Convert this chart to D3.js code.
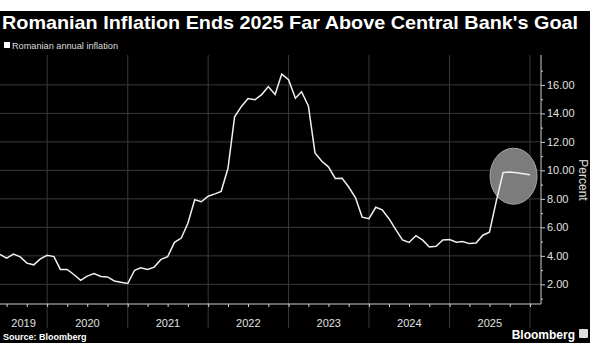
<!DOCTYPE html>
<html>
<head>
<meta charset="utf-8">
<script src="https://cdn.jsdelivr.net/npm/d3@7"></script>
<style>
    body { margin: 0; background: #fff; }
    text { font-family: "Liberation Sans", Arial, sans-serif; }
</style>
</head>
<body>
<div id="chart"></div>
<script>

// Romanian annual CPI inflation (%), monthly
const cpi2019 = [4.10, 3.84, 4.12, 3.93, 3.49, 3.37, 3.79, 4.04]; // May - Dec
const cpi2020 = [3.95, 3.05, 3.05, 2.69, 2.28, 2.58, 2.75, 2.55, 2.52, 2.24, 2.14, 2.06];
const cpi2021 = [2.99, 3.16, 3.05, 3.21, 3.75, 3.94, 4.95, 5.25, 6.29, 7.94, 7.80, 8.19];
const cpi2022 = [8.35, 8.53, 10.15, 13.76, 14.49, 15.05, 14.96, 15.32, 15.88, 15.32, 16.76, 16.37];
const cpi2023 = [15.07, 15.52, 14.53, 11.23, 10.64, 10.25, 9.43, 9.44, 8.83, 8.07, 6.72, 6.61];
const cpi2024 = [7.41, 7.23, 6.61, 5.86, 5.12, 4.94, 5.42, 5.10, 4.62, 4.67, 5.11, 5.14];
const cpi2025 = [4.95, 5.00, 4.86, 4.90, 5.45, 5.66, 7.84, 9.85, 9.88, 9.83, 9.76, 9.69];

const years = [2019, 2020, 2021, 2022, 2023, 2024, 2025];
const yTicks = [2, 4, 6, 8, 10, 12, 14, 16];
const yMinorTicks = [1, 3, 5, 7, 9, 11, 13, 15, 17];

const title = "Romanian Inflation Ends 2025 Far Above Central Bank's Goal";
const legendLabel = "Romanian annual inflation";
const yLabel = "Percent";
const source = "Source: Bloomberg";

// build the series, each value sits at the end of its month (= 1st of next month)
let data = [];
[cpi2019, cpi2020, cpi2021, cpi2022, cpi2023, cpi2024, cpi2025].forEach(function (arr, i) {
    let startMonth = 12 - arr.length;
    arr.forEach(function (v, j) {
        data.push({ date: new Date(years[i], startMonth + j + 1, 1), value: v });
    });
});

const width = 590, height = 354;

const svg = d3.select("#chart").append("svg")
    .attr("width", width)
    .attr("height", height);

svg.append("rect").attr("width", width).attr("height", height).attr("fill", "#fff");
svg.append("rect").attr("x", 0).attr("y", 11).attr("width", width).attr("height", 332).attr("fill", "#000");

// plot area
const plot = { left: 0, right: 541, top: 55, bottom: 304 };

const x = d3.scaleTime()
    .domain([new Date(2019, 5, 1), new Date(2026, 1, 20)])
    .range([plot.left, plot.right]);

const y = d3.scaleLinear()
    .domain([0.62, 18.1])
    .range([plot.bottom, plot.top]);

// Title + legend
svg.append("text")
    .attr("x", 2)
    .attr("y", 29)
    .attr("fill", "#fff")
    .attr("font-family", "'DejaVu Sans', sans-serif")
    .attr("font-weight", "bold")
    .attr("font-size", 19)
    .attr("textLength", 576)
    .attr("lengthAdjust", "spacingAndGlyphs")
    .text(title);

svg.append("rect")
    .attr("x", 4).attr("y", 42)
    .attr("width", 6).attr("height", 6)
    .attr("fill", "#fff");

svg.append("text")
    .attr("x", 12)
    .attr("y", 49)
    .attr("fill", "#ddd")
    .attr("font-size", 9.5)
    .attr("textLength", 106)
    .attr("lengthAdjust", "spacingAndGlyphs")
    .text(legendLabel);

// horizontal gridlines
svg.append("g").selectAll("line")
    .data(yTicks)
    .enter().append("line")
    .attr("x1", plot.left).attr("x2", plot.right)
    .attr("y1", d => y(d)).attr("y2", d => y(d))
    .attr("stroke", "#3a3a3a")
    .attr("stroke-width", 1);

// vertical gridlines at each year start, running through the label band
const yearStarts = years.slice(1).map(d => new Date(d, 0, 1)).concat([new Date(2026, 0, 1)]);
svg.append("g").selectAll("line")
    .data(yearStarts)
    .enter().append("line")
    .attr("x1", d => x(d)).attr("x2", d => x(d))
    .attr("y1", plot.top).attr("y2", 328)
    .attr("stroke", "#3a3a3a")
    .attr("stroke-width", 1);

// x axis: quarterly minor ticks, year labels centred in each year
const xAxis = d3.axisBottom(x)
    .ticks(d3.timeMonth.every(3))
    .tickSize(3)
    .tickFormat("");

const xg = svg.append("g")
    .attr("transform", "translate(0," + plot.bottom + ")")
    .call(xAxis);
xg.select(".domain").attr("stroke", "#cfcfcf").attr("d", "M" + plot.left + ",0H" + plot.right);
xg.selectAll(".tick line").attr("stroke", "#cfcfcf");

svg.append("g").selectAll("text")
    .data(years)
    .enter().append("text")
    .attr("x", function (d) {
        let a = Math.max(x(new Date(d, 0, 1)), plot.left);
        let b = x(new Date(d + 1, 0, 1));
        return (a + b) / 2;
    })
    .attr("y", 327)
    .attr("text-anchor", "middle")
    .attr("fill", "#e0e0e0")
    .attr("font-size", 11)
    .text(d => d);

// y axis on the right
const yAxis = d3.axisRight(y)
    .tickValues(yMinorTicks.concat(yTicks).sort((a, b) => a - b))
    .tickSize(3)
    .tickFormat(d => yTicks.includes(d) ? d3.format(".2f")(d) : "");

const yg = svg.append("g")
    .attr("transform", "translate(" + plot.right + ",0)")
    .call(yAxis);
yg.select(".domain").attr("stroke", "#cfcfcf").attr("d", "M0," + plot.top + "V" + plot.bottom);
yg.selectAll(".tick line").attr("stroke", "#cfcfcf")
    .attr("x2", d => yTicks.includes(d) ? 4 : 2);
yg.selectAll(".tick text")
    .attr("x", 6)
    .attr("fill", "#e0e0e0")
    .attr("font-family", "'Liberation Sans', Arial, sans-serif")
    .attr("font-size", 11);

svg.append("text")
    .attr("transform", "translate(579," + 180 + ") rotate(90)")
    .attr("text-anchor", "middle")
    .attr("fill", "#e0e0e0")
    .attr("font-size", 12)
    .text(yLabel);

// highlight around the latest readings
const last = data.slice(-5);
svg.append("ellipse")
    .attr("cx", (x(last[0].date) + x(last[last.length - 1].date)) / 2 - 3)
    .attr("cy", y(d3.mean(last, d => d.value)) + 3)
    .attr("rx", 23.5)
    .attr("ry", 28)
    .attr("fill", "#7c7c7c")
    .attr("stroke", "#a8a8a8")
    .attr("stroke-width", 1);

// the line
svg.append("path")
    .datum(data)
    .attr("fill", "none")
    .attr("stroke", "#f0f0f0")
    .attr("stroke-width", 1.5)
    .attr("d", d3.line()
        .x(d => x(d.date))
        .y(d => y(d.value)));

// footer
svg.append("text")
    .attr("x", 3)
    .attr("y", 340)
    .attr("fill", "#fff")
    .attr("font-family", "'DejaVu Sans', sans-serif")
    .attr("font-weight", "bold")
    .attr("font-size", 9)
    .text(source);

svg.append("text")
    .attr("x", 575)
    .attr("y", 339)
    .attr("text-anchor", "end")
    .attr("fill", "#fff")
    .attr("font-weight", "bold")
    .attr("font-size", 12)
    .text("Bloomberg");

svg.append("rect")
    .attr("x", 579).attr("y", 329)
    .attr("width", 9).attr("height", 9)
    .attr("rx", 1)
    .attr("fill", "#ddd");

</script>
</body>
</html>
